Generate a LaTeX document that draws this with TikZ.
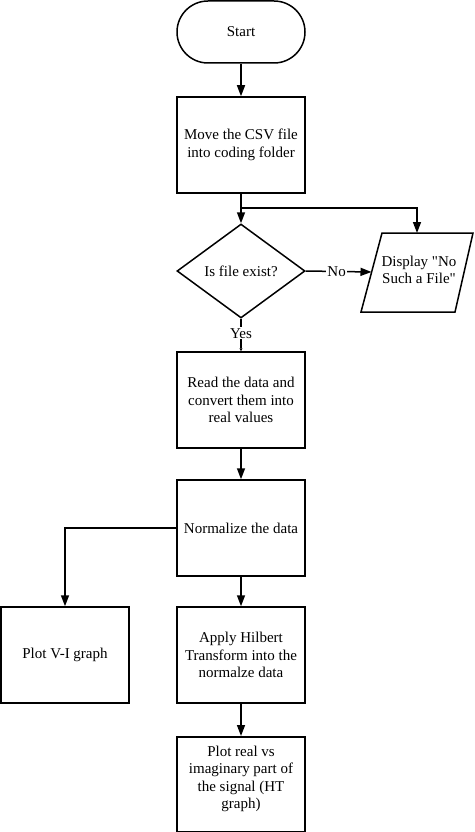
\documentclass[tikz,border=0pt]{standalone}
\usepackage{fontspec}
\setmainfont{Liberation Serif}
\usetikzlibrary{arrows.meta,shapes.geometric,calc}
\begin{document}
\begin{tikzpicture}[x=1pt,y=-1pt,
  every node/.style={font=\fontsize{15}{17.5}\selectfont, text=black},
  box/.style={draw, line width=1.5pt, minimum width=128pt, minimum height=96pt, align=center, inner sep=2pt},
  arr/.style={line width=1.5pt, -{Triangle[length=11pt,width=8pt]}},
  lbl/.style={fill=white, inner sep=1pt}
]
\useasboundingbox (0,0) rectangle (474,832);
\node[draw, line width=1.5pt, rounded corners=31pt, minimum width=128pt, minimum height=62pt] (start) at (241,32) {Start};
\node[box] (move) at (241,145) {Move the CSV file\\into coding folder};
\node[draw, line width=1.5pt, diamond, minimum width=128pt, minimum height=94pt, inner sep=0pt, shape aspect=1.36] (dia) at (241,271) {Is file exist?};
\draw[line width=1.5pt] (382,233) coordinate (pTL) -- (473,233) coordinate (pTR) -- (455,312) coordinate (pBR) -- (361,312) coordinate (pBL) -- cycle;
\node[align=center] (disp) at (419,270) {Display \textquotedbl No\\Such a File\textquotedbl};
\coordinate (pin) at (371.5,272);
\coordinate (ptop) at (417,233);
\node[box] (read) at (241,400) {Read the data and\\convert them into\\real values};
\node[box] (norm) at (241,528) {Normalize the data};
\node[box] (plotvi) at (65,655) {Plot V-I graph};
\node[box] (apply) at (241,655) {Apply Hilbert\\Transform into the\\normalze data};
\node[box, minimum height=95pt, anchor=north] (plotre) at (241,736) {};
\node[align=center] (plotretext) at (241,779) {Plot real vs\\imaginary part of\\the signal (HT\\graph)};
\coordinate (junc) at (241,208);
\draw[arr] (start) -- (move);
\draw[line width=1.5pt] (move) -- (junc);
\draw[arr] (junc) -- (dia.north);
\draw[arr] (junc) -| (ptop);
\draw[arr] (dia.east) -- node[lbl, pos=0.47] {No} (pin);
\draw[line width=1.5pt, -{Triangle[length=3pt,width=3pt]}] (dia.south) -- node[lbl, pos=0.45] {Yes} (read.north);
\draw[arr] (read) -- (norm);
\draw[arr] (norm.west) -| (plotvi.north);
\draw[arr] (norm) -- (apply);
\draw[arr] (apply) -- (plotre);
\end{tikzpicture}
\end{document}
